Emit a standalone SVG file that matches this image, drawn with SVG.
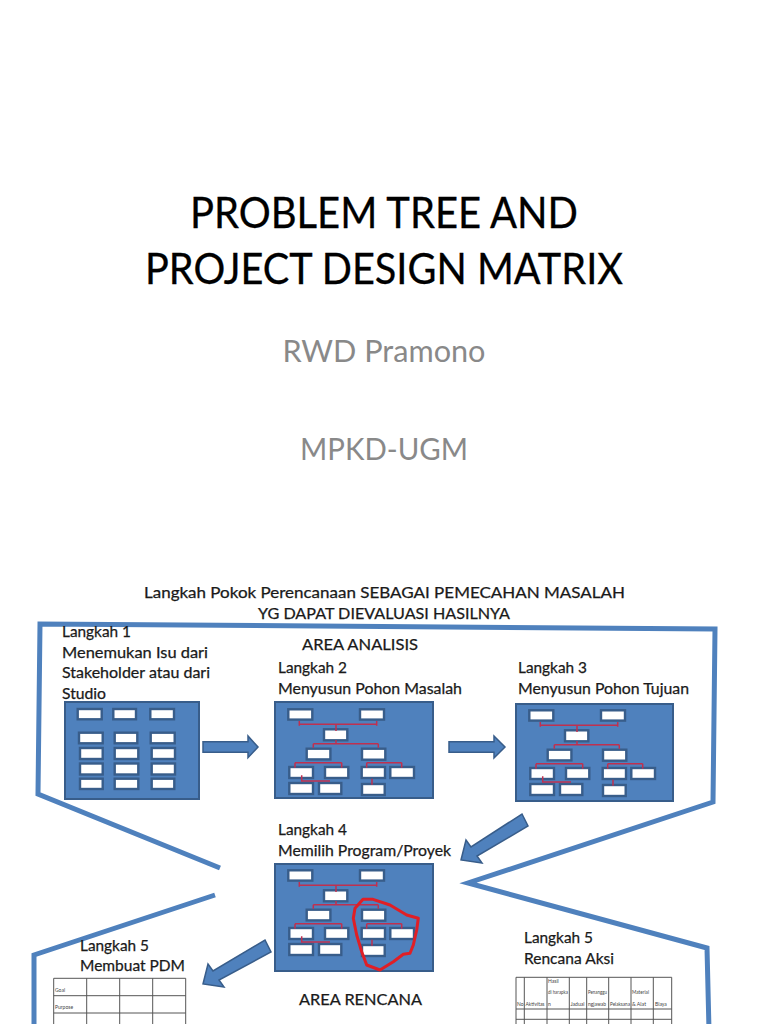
<svg xmlns="http://www.w3.org/2000/svg" xmlns:xlink="http://www.w3.org/1999/xlink" width="768" height="1024" viewBox="0 0 768 1024">
<style>
text{font-family:"Lato","Open Sans","Liberation Sans",sans-serif;fill:#1a1a1a}
.title{font-size:43px;fill:#000;stroke:#000;stroke-width:.3;text-anchor:middle}
.sub{font-size:31px;fill:#898989;text-anchor:middle}
.lbl,.head{font-size:15px;stroke:#1a1a1a;stroke-width:.25}
.pane{fill:#4f81bd;stroke:#385d8a;stroke-width:2}
.box{fill:#fff;stroke:#385d8a;stroke-width:2.4}
.red{fill:none;stroke:#c0304f;stroke-width:1.5}
.out{fill:none;stroke:#4f81bd;stroke-width:5;stroke-linejoin:miter}
.arr{fill:#4f81bd;stroke:#385d8a;stroke-width:1.5}
.grid{fill:none;stroke:#555;stroke-width:1}
.t1{font-size:5px;fill:#444}
</style>
<defs>
<g id="tree">
<rect class="box" x="13.3" y="7.3" width="24" height="10.3"/>
<rect class="box" x="85" y="7.3" width="24" height="10.3"/>
<rect class="box" x="49" y="27.3" width="23.3" height="11"/>
<rect class="box" x="31.7" y="46.7" width="23.7" height="10.7"/>
<rect class="box" x="87" y="46.7" width="23.3" height="11"/>
<rect class="box" x="14.3" y="65" width="23.7" height="11"/>
<rect class="box" x="50" y="65" width="23.3" height="11"/>
<rect class="box" x="86.7" y="65" width="23.3" height="11"/>
<rect class="box" x="115.3" y="65" width="23.7" height="11"/>
<rect class="box" x="14.3" y="81" width="23.7" height="11"/>
<rect class="box" x="44" y="81" width="22.3" height="11"/>
<rect class="box" x="87" y="82" width="22.7" height="11"/>
<path class="red" d="M24.3 19V23.7M101.7 19V23.7M24.3 22.3H101.7M61 21.7V29M61 38V41.7M38.3 41.7H103.3M38.3 41.7V45.7M103.3 41.7V45.7M20 60.7H66.7M20 60.7V65.7M66.7 60.7V65.7M91.7 60.7H126.7M91.7 60.7V65.7M126.7 60.7V65.7M26.7 73.3V79H55M97 76.7V82.7"/>
</g>
</defs>
<g id="title">
<text class="title" x="384" y="228" textLength="388" lengthAdjust="spacingAndGlyphs">PROBLEM TREE AND</text>
<text class="title" x="384" y="284" textLength="478" lengthAdjust="spacingAndGlyphs">PROJECT DESIGN MATRIX</text>
<text class="sub" x="384" y="362" textLength="203" lengthAdjust="spacingAndGlyphs">RWD Pramono</text>
<text class="sub" x="384" y="460" textLength="168" lengthAdjust="spacingAndGlyphs">MPKD-UGM</text>
<text class="head" x="144" y="598" textLength="481" lengthAdjust="spacingAndGlyphs">Langkah Pokok Perencanaan SEBAGAI PEMECAHAN MASALAH</text>
<text class="head" x="258" y="619" textLength="252" lengthAdjust="spacingAndGlyphs">YG DAPAT DIEVALUASI HASILNYA</text>
<text class="head" x="302" y="650" textLength="116" lengthAdjust="spacingAndGlyphs">AREA ANALISIS</text>
<text class="head" x="299" y="1005" textLength="123" lengthAdjust="spacingAndGlyphs">AREA RENCANA</text>
</g>
<g id="connectors">
<path class="out" d="M220 868L38 794L40 624L715 629L713 802L468 883L707 948L709 1030"/>
<path class="out" d="M215 895L34 955V1030"/>
<polygon class="arr" points="203,741.7 248,741.7 248,736 258,747 248,757.7 248,752.3 203,752.3"/>
<polygon class="arr" points="449,741.7 494,741.7 494,736 505,747 494,758 494,752.3 449,752.3"/>
<polygon class="arr" points="461,860 466,840 471,847 522,814 528,826 477,856 482,863"/>
<polygon class="arr" points="203,984 208,964 213,971 265,940 271,952 219,980 224,987"/>
</g>
<g id="step1">
<text class="lbl" x="62" y="637" textLength="69" lengthAdjust="spacingAndGlyphs">Langkah 1</text>
<text class="lbl" x="62" y="658" textLength="146" lengthAdjust="spacingAndGlyphs">Menemukan Isu  dari</text>
<text class="lbl" x="62" y="678" textLength="148" lengthAdjust="spacingAndGlyphs">Stakeholder atau dari</text>
<text class="lbl" x="62" y="699" textLength="44" lengthAdjust="spacingAndGlyphs">Studio</text>
<rect class="pane" x="65" y="702" width="134" height="97"/>
<rect class="box" x="77.7" y="709" width="24" height="10.3"/><rect class="box" x="113.3" y="709" width="22.7" height="10.3"/><rect class="box" x="150.3" y="709" width="23.7" height="10.3"/>
<rect class="box" x="79" y="732.7" width="23.7" height="10.6"/><rect class="box" x="114.7" y="732.7" width="22.6" height="10.6"/><rect class="box" x="150.7" y="732.7" width="24" height="10.6"/>
<rect class="box" x="80" y="748" width="22.7" height="11"/><rect class="box" x="114.7" y="748" width="23.6" height="11"/><rect class="box" x="151.7" y="748" width="23.3" height="11"/>
<rect class="box" x="80" y="763.5" width="22.7" height="11"/><rect class="box" x="114.7" y="763.5" width="23.6" height="11"/><rect class="box" x="151.7" y="763.5" width="23.3" height="11"/>
<rect class="box" x="80" y="778.7" width="22.7" height="10.3"/><rect class="box" x="114.7" y="778.7" width="23.6" height="10.3"/><rect class="box" x="151.7" y="778.7" width="22.6" height="10.3"/>
</g>
<g id="step2">
<text class="lbl" x="278" y="673" textLength="69" lengthAdjust="spacingAndGlyphs">Langkah 2</text>
<text class="lbl" x="278" y="694" textLength="184" lengthAdjust="spacingAndGlyphs">Menyusun Pohon Masalah</text>
<rect class="pane" x="275" y="702" width="158" height="96"/>
<use xlink:href="#tree" href="#tree" x="275" y="702"/>
</g>
<g id="step3">
<text class="lbl" x="518" y="673" textLength="69" lengthAdjust="spacingAndGlyphs">Langkah 3</text>
<text class="lbl" x="518" y="694" textLength="171" lengthAdjust="spacingAndGlyphs">Menyusun Pohon Tujuan</text>
<rect class="pane" x="516" y="704" width="157" height="97"/>
<use xlink:href="#tree" href="#tree" x="516" y="703"/>
</g>
<g id="step4">
<text class="lbl" x="278" y="835" textLength="69" lengthAdjust="spacingAndGlyphs">Langkah 4</text>
<text class="lbl" x="278" y="856" textLength="173" lengthAdjust="spacingAndGlyphs">Memilih Program/Proyek</text>
<rect class="pane" x="275" y="864" width="158" height="107"/>
<use xlink:href="#tree" href="#tree" x="275" y="863"/>
<path d="M363 899.3L373 899.3L390 905L406.7 915L418.3 918.3L416.7 930L413.3 945L410 953.3L403.3 954.3L393.3 961.7L380 970L366.7 965L361.7 951.7L356.7 935L353.3 918.3L355 908.3Z" fill="none" stroke="#e01f26" stroke-width="3" stroke-linejoin="round"/>
</g>
<g id="step5a">
<text class="lbl" x="80" y="951" textLength="69" lengthAdjust="spacingAndGlyphs">Langkah 5</text>
<text class="lbl" x="80" y="971" textLength="105" lengthAdjust="spacingAndGlyphs">Membuat PDM</text>
<path class="grid" d="M53.7 978.3H185.7M53.7 995.7H185.7M53.7 1013H185.7M53.7 978.3V1024M86.7 978.3V1024M119.7 978.3V1024M152.7 978.3V1024M185.7 978.3V1024"/>
<text class="t1" x="55" y="992">Goal</text>
<text class="t1" x="55" y="1009">Purpose</text>
</g>
<g id="step5b">
<text class="lbl" x="524" y="943" textLength="69" lengthAdjust="spacingAndGlyphs">Langkah 5</text>
<text class="lbl" x="524" y="964" textLength="90" lengthAdjust="spacingAndGlyphs">Rencana Aksi</text>
<path class="grid" d="M516 977.3H671.7M516 1009H671.7M516 1019.3H671.7M516 977.3V1024M524.3 977.3V1024M547 977.3V1024M569.3 977.3V1024M586.7 977.3V1024M608.7 977.3V1024M631 977.3V1024M653.3 977.3V1024M671.7 977.3V1024"/>
<text class="t1" x="517" y="1006">No</text>
<text class="t1" x="525.500" y="1006" textLength="19" lengthAdjust="spacingAndGlyphs">Aktivitas</text>
<text class="t1" x="548" y="983">Hasil</text>
<text class="t1" x="548" y="994" textLength="20" lengthAdjust="spacingAndGlyphs">di harapka</text>
<text class="t1" x="548" y="1006">n</text>
<text class="t1" x="570.500" y="1006" textLength="14" lengthAdjust="spacingAndGlyphs">Jadual</text>
<text class="t1" x="588" y="994" textLength="19" lengthAdjust="spacingAndGlyphs">Penanggu</text>
<text class="t1" x="588" y="1006" textLength="18" lengthAdjust="spacingAndGlyphs">ngjawab</text>
<text class="t1" x="610" y="1006" textLength="20" lengthAdjust="spacingAndGlyphs">Pelaksana</text>
<text class="t1" x="632" y="994" textLength="17" lengthAdjust="spacingAndGlyphs">Material</text>
<text class="t1" x="632" y="1006" textLength="14" lengthAdjust="spacingAndGlyphs">&amp; Alat</text>
<text class="t1" x="655" y="1006">Biaya</text>
</g>
</svg>
